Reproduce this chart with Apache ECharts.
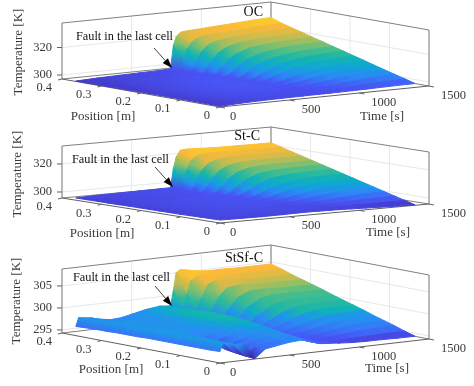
<!DOCTYPE html>
<html>
<head>
<meta charset="utf-8">
<title>Temperature surfaces</title>
<script src="https://cdn.jsdelivr.net/npm/echarts@6/dist/echarts.min.js"></script>
<style>
html, body { margin: 0; padding: 0; background: #fff; }
#chart { width: 474px; height: 386px; }
</style>
</head>
<body>
<div id="chart"></div>
<script>
var timeTicks = [0, 500, 1000, 1500];
var posTicks = [0, 0.1, 0.2, 0.3, 0.4];
var posRows = [0, 0.026, 0.052, 0.078, 0.104, 0.13, 0.156, 0.182, 0.208, 0.234, 0.26, 0.286, 0.312, 0.338, 0.365];

var ocTicks = [300, 320];
var stcTicks = [300, 320];
var stsfcTicks = [295, 300, 305];

// columns of the first two surfaces
var timeCols = [0, 150, 300, 450, 600, 680, 700, 720, 750, 800, 860, 950, 1050, 1150, 1280, 1400];
// columns of the third one, it has more going on before the fault
var timeColsS = [0, 20, 100, 170, 250, 325, 400, 500, 600, 680, 700, 720, 750, 800, 860, 950, 1050, 1150, 1280, 1400];

// temperature, one line per entry of posRows
var ocTemp = [
    [297.6, 298.3, 298.7, 298.9, 299.0, 299.1, 299.1, 299.1, 299.1, 299.1, 299.2, 299.3, 299.4, 299.6, 299.8, 299.9],
    [297.7, 298.5, 298.9, 299.1, 299.2, 299.2, 299.2, 299.2, 299.2, 299.3, 299.5, 299.9, 300.4, 301.0, 301.6, 302.0],
    [297.8, 298.6, 299.1, 299.3, 299.4, 299.3, 299.3, 299.3, 299.3, 299.5, 299.8, 300.5, 301.5, 302.5, 303.4, 304.0],
    [297.8, 298.7, 299.2, 299.5, 299.6, 299.4, 299.4, 299.4, 299.4, 299.7, 300.4, 301.6, 303.0, 304.3, 305.4, 306.0],
    [297.8, 298.8, 299.3, 299.6, 299.8, 299.5, 299.5, 299.5, 299.6, 300.2, 301.2, 303.1, 304.9, 306.2, 307.3, 308.0],
    [297.8, 298.8, 299.4, 299.7, 299.9, 299.6, 299.6, 299.6, 299.8, 300.9, 302.5, 304.9, 307.0, 308.4, 309.5, 310.2],
    [297.8, 298.8, 299.4, 299.8, 300.0, 299.6, 299.6, 299.7, 300.0, 301.7, 304.0, 306.9, 309.2, 310.6, 311.6, 312.2],
    [297.7, 298.7, 299.3, 299.8, 300.0, 299.6, 299.6, 299.8, 300.5, 303.0, 306.0, 309.3, 311.5, 312.8, 313.7, 314.3],
    [297.7, 298.7, 299.2, 299.7, 299.9, 299.6, 299.7, 300.2, 301.5, 304.9, 308.4, 311.8, 313.8, 315.0, 315.8, 316.3],
    [297.6, 298.6, 299.1, 299.5, 299.8, 299.6, 299.9, 300.8, 303.1, 307.3, 311.0, 314.4, 316.1, 317.3, 318.0, 318.4],
    [297.6, 298.5, 299.0, 299.4, 299.6, 299.6, 300.2, 302.0, 305.4, 310.4, 314.1, 317.1, 318.5, 319.4, 320.0, 320.4],
    [297.5, 298.4, 298.9, 299.2, 299.4, 299.6, 301.1, 304.1, 308.7, 314.0, 317.4, 319.5, 320.7, 321.4, 322.1, 322.5],
    [297.5, 298.2, 298.7, 299.0, 299.2, 299.6, 303.3, 308.3, 313.5, 318.3, 320.5, 321.8, 322.5, 323.3, 324.0, 324.5],
    [297.4, 298.1, 298.5, 298.8, 299.1, 299.8, 307.6, 314.4, 319.0, 322.3, 323.3, 323.9, 324.4, 325.2, 326.1, 326.6],
    [297.4, 298.0, 298.4, 298.7, 299.0, 299.5, 316.0, 322.2, 325.2, 325.8, 326.1, 326.7, 327.3, 327.9, 328.8, 329.4]
];

var stcTemp = [
    [297.8, 297.6, 297.5, 297.6, 297.8, 297.8, 297.8, 297.7, 297.7, 297.6, 297.5, 297.2, 296.9, 296.6, 296.2, 296.0],
    [297.7, 297.8, 297.8, 297.9, 297.9, 297.9, 297.9, 297.9, 297.9, 297.9, 297.9, 298.0, 298.0, 298.0, 298.0, 298.0],
    [297.6, 297.9, 298.0, 298.0, 298.0, 298.0, 298.0, 298.0, 298.0, 298.0, 298.2, 298.6, 299.0, 299.5, 299.8, 300.0],
    [297.5, 297.9, 298.0, 298.1, 298.1, 298.1, 298.1, 298.1, 298.1, 298.3, 298.6, 299.4, 300.3, 301.1, 301.7, 302.0],
    [297.4, 297.9, 298.2, 298.4, 298.5, 298.3, 298.3, 298.3, 298.3, 298.7, 299.3, 300.6, 302.0, 303.0, 303.7, 304.0],
    [297.4, 297.9, 298.2, 298.4, 298.5, 298.4, 298.4, 298.4, 298.5, 299.2, 300.3, 302.2, 303.9, 305.0, 305.7, 306.0],
    [297.4, 297.9, 298.2, 298.4, 298.5, 298.5, 298.5, 298.6, 298.8, 299.9, 301.6, 304.1, 306.0, 307.2, 307.8, 308.0],
    [297.4, 297.9, 298.2, 298.4, 298.5, 298.6, 298.6, 298.7, 299.3, 301.0, 303.5, 306.6, 308.5, 309.4, 309.9, 310.0],
    [297.4, 297.9, 298.2, 298.4, 298.5, 298.6, 298.7, 299.0, 300.0, 302.6, 306.0, 309.3, 311.0, 311.7, 312.0, 312.0],
    [297.4, 297.9, 298.2, 298.4, 298.5, 298.7, 298.9, 299.5, 301.5, 305.2, 309.0, 312.2, 313.4, 313.9, 314.0, 314.0],
    [297.3, 297.8, 298.0, 298.2, 298.4, 298.7, 299.2, 300.5, 303.5, 308.5, 312.5, 315.0, 315.8, 316.0, 316.0, 316.0],
    [297.3, 297.8, 298.0, 298.2, 298.4, 298.7, 299.8, 302.5, 307.0, 312.5, 315.9, 317.6, 318.0, 318.1, 318.0, 318.0],
    [297.3, 297.8, 298.0, 298.2, 298.4, 298.7, 301.5, 306.0, 312.0, 317.0, 319.3, 320.2, 320.3, 320.2, 320.1, 320.0],
    [297.3, 297.8, 298.0, 298.2, 298.4, 298.6, 305.0, 312.0, 318.5, 322.0, 322.6, 322.6, 322.4, 322.2, 322.1, 322.0],
    [297.3, 297.8, 298.0, 298.2, 298.4, 298.5, 312.0, 320.0, 324.6, 325.0, 324.8, 324.4, 324.2, 324.1, 324.0, 324.0]
];

var stsfcTemp = [
    [296.9, 298.7, 298.2, 298.0, 294.4, 296.3, 296.7, 297.2, 297.4, 296.6, 296.3, 296.1, 296.0, 295.9, 295.7, 295.5, 295.4, 295.4, 295.3, 295.3],
    [296.8, 298.6, 298.2, 297.4, 294.6, 296.3, 296.8, 297.5, 297.7, 296.7, 296.3, 296.1, 295.9, 295.8, 295.7, 295.7, 295.8, 295.9, 296.0, 296.0],
    [296.8, 298.6, 298.2, 297.5, 294.9, 296.3, 297.0, 297.8, 298.0, 296.8, 296.4, 296.2, 296.0, 295.9, 295.8, 296.0, 296.3, 296.6, 296.8, 296.8],
    [296.8, 298.5, 298.3, 297.6, 295.3, 296.5, 297.3, 298.2, 298.4, 296.9, 296.4, 296.2, 296.1, 296.0, 296.0, 296.3, 296.8, 297.3, 297.5, 297.5],
    [296.8, 298.5, 298.3, 297.7, 296.3, 297.2, 297.8, 298.6, 298.8, 297.1, 296.5, 296.3, 296.2, 296.1, 296.2, 296.7, 297.4, 298.0, 298.2, 298.2],
    [296.8, 298.4, 298.4, 297.9, 297.0, 297.7, 298.2, 298.9, 299.1, 297.4, 296.6, 296.4, 296.3, 296.2, 296.5, 297.3, 298.2, 298.8, 299.0, 299.0],
    [296.8, 298.4, 298.4, 298.1, 298.1, 298.2, 298.6, 299.2, 299.4, 297.7, 296.7, 296.5, 296.4, 296.4, 296.9, 298.0, 299.1, 299.6, 299.7, 299.7],
    [296.8, 298.4, 298.4, 298.1, 298.1, 298.2, 298.7, 299.3, 299.5, 297.9, 296.8, 296.6, 296.5, 296.6, 297.5, 299.0, 300.1, 300.4, 300.4, 300.4],
    [296.7, 298.4, 298.4, 298.1, 298.1, 298.2, 298.7, 299.4, 299.6, 298.1, 296.9, 296.7, 296.6, 297.0, 298.4, 300.2, 301.1, 301.2, 301.1, 301.1],
    [296.7, 298.3, 298.3, 298.1, 298.1, 298.2, 298.7, 299.4, 299.6, 298.2, 297.0, 296.8, 296.8, 297.8, 299.8, 301.5, 302.1, 302.0, 301.9, 301.9],
    [296.7, 298.3, 298.3, 298.1, 298.0, 298.1, 298.6, 299.3, 299.5, 298.3, 297.1, 296.9, 297.2, 299.3, 301.5, 302.8, 302.9, 302.7, 302.6, 302.6],
    [296.6, 298.3, 298.2, 298.1, 298.0, 298.1, 298.5, 299.2, 299.4, 298.4, 297.2, 297.3, 298.6, 301.5, 303.4, 303.7, 303.5, 303.4, 303.3, 303.3],
    [296.6, 298.3, 298.2, 298.0, 297.9, 298.0, 298.4, 299.1, 299.3, 298.5, 297.5, 298.5, 301.0, 304.0, 304.7, 304.4, 304.1, 304.0, 304.0, 304.0],
    [296.5, 298.3, 298.1, 297.8, 297.6, 297.8, 298.2, 298.8, 299.1, 298.7, 298.5, 301.5, 304.5, 305.6, 305.4, 304.9, 304.8, 304.8, 304.8, 304.8],
    [296.4, 298.3, 298.0, 297.3, 297.0, 297.2, 297.7, 298.4, 298.8, 298.6, 302.0, 306.0, 306.6, 306.3, 305.9, 305.6, 305.6, 305.5, 305.5, 305.5]
];

var panelTitles = ['OC', 'St-C', 'StSf-C'];
var faultText = 'Fault in the last cell';

// layout of each box in pixels
var panels = [
    {
        times: timeCols, temps: ocTemp, ticks: ocTicks, zMin: 297.1, zMax: 337.8,
        colorKnots: [[295.8, 0], [331, 1]],
        frontY: 107, height: 56, posDy: 28, timeDy: 21,
        titleX: 263, titleY: 12, faultX: 76, faultY: 37, arrow: [154, 48, 172, 68],
        tempY: 52, tempX: 19, posX: 103, posY: 117, timeX: 382, timeY: 117
    },
    {
        times: timeCols, temps: stcTemp, ticks: stcTicks, zMin: 295.7, zMax: 332.8,
        colorKnots: [[295.2, 0], [327, 1]],
        frontY: 223, height: 52, posDy: 25, timeDy: 19,
        titleX: 260, titleY: 136, faultX: 72, faultY: 160, arrow: [155, 167, 173, 187],
        tempY: 174, tempX: 18, posX: 102, posY: 234, timeX: 388, timeY: 233
    },
    {
        times: timeColsS, temps: stsfcTemp, ticks: stsfcTicks, zMin: 294.3, zMax: 308.85,
        // this one does not follow a straight scale in the picture, green starts early
        colorKnots: [[294.3, 0], [295.3, 0.05], [296.3, 0.16], [297.5, 0.22], [298.6, 0.29], [299.5, 0.46],
            [301.9, 0.55], [303.3, 0.68], [304.8, 0.82], [305.5, 0.87], [307.5, 0.97]],
        frontY: 363, height: 64, posDy: 30, timeDy: 24,
        titleX: 263, titleY: 258, faultX: 73, faultY: 278, arrow: [155, 286, 172, 306],
        tempY: 301, tempX: 17, posX: 111, posY: 370, timeX: 387, timeY: 369
    }
];

var frontX = 220;
var boxTimeW = 209;
var boxPosW = 158;
var textFont = '"Liberation Serif", "Times New Roman", serif';

var parula = [
    [0, [62, 38, 168]], [0.11, [72, 82, 244]], [0.22, [45, 135, 247]], [0.33, [14, 165, 216]],
    [0.45, [18, 181, 174]], [0.55, [74, 189, 138]], [0.65, [150, 191, 98]], [0.75, [217, 186, 72]],
    [0.85, [252, 185, 56]], [0.93, [248, 208, 40]], [1, [249, 251, 21]]
];

function colorLevel(panel, temp) {
    var knots = panel.colorKnots;
    if (temp <= knots[0][0]) {
        return knots[0][1];
    }
    for (var i = 1; i < knots.length; i++) {
        if (temp <= knots[i][0]) {
            var k = (temp - knots[i - 1][0]) / (knots[i][0] - knots[i - 1][0]);
            return knots[i - 1][1] + (knots[i][1] - knots[i - 1][1]) * k;
        }
    }
    return knots[knots.length - 1][1];
}

function tempColor(panel, temp) {
    var v = colorLevel(panel, temp);
    for (var i = 1; i < parula.length; i++) {
        if (v <= parula[i][0]) {
            var a = parula[i - 1], b = parula[i];
            var k = (v - a[0]) / (b[0] - a[0]);
            return 'rgb(' + Math.round(a[1][0] + (b[1][0] - a[1][0]) * k) + ','
                + Math.round(a[1][1] + (b[1][1] - a[1][1]) * k) + ','
                + Math.round(a[1][2] + (b[1][2] - a[1][2]) * k) + ')';
        }
    }
    return 'rgb(249,251,21)';
}

// the box is an oblique view, so shear time/position/temperature into the grid's own axes
function project(api, panel, t, p, temp) {
    var perPx = (panel.zMax - panel.zMin) / panel.height;
    var xVal = t - (p / 0.4) * boxPosW * (1500 / boxTimeW);
    var yVal = temp + ((p / 0.4) * panel.posDy + (t / 1500) * panel.timeDy) * perPx;
    return api.coord([xVal, yVal]);
}

function renderSurface(panel) {
    return function (params, api) {
        var i = api.value(0), j = api.value(1);
        var temps = panel.temps, times = panel.times;
        var p0 = posRows[i], p1 = posRows[i + 1];
        var t0 = times[j], t1 = times[j + 1];
        var a = project(api, panel, t0, p0, temps[i][j]);
        var b = project(api, panel, t1, p0, temps[i][j + 1]);
        var c = project(api, panel, t1, p1, temps[i + 1][j + 1]);
        var d = project(api, panel, t0, p1, temps[i + 1][j]);
        var grad = new echarts.graphic.LinearGradient(
            (a[0] + d[0]) / 2, (a[1] + d[1]) / 2, (b[0] + c[0]) / 2, (b[1] + c[1]) / 2,
            [
                { offset: 0, color: tempColor(panel, (temps[i][j] + temps[i + 1][j]) / 2) },
                { offset: 1, color: tempColor(panel, (temps[i][j + 1] + temps[i + 1][j + 1]) / 2) }
            ],
            true
        );
        return {
            type: 'polygon',
            shape: { points: [a, b, c, d] },
            style: { fill: grad, stroke: grad, lineWidth: 1 }
        };
    };
}

function lineEl(a, b, color, width) {
    return {
        type: 'line',
        shape: { x1: a[0], y1: a[1], x2: b[0], y2: b[1] },
        style: { stroke: color, lineWidth: width }
    };
}

function textEl(x, y, text, align, size, color, rotation) {
    return {
        type: 'text',
        x: x,
        y: y,
        rotation: rotation || 0,
        style: {
            text: text,
            align: align,
            verticalAlign: 'middle',
            fill: color,
            font: size + 'px ' + textFont
        }
    };
}

function renderFrame(panel) {
    return function (params, api) {
        var kids = [];
        var lo = panel.zMin, hi = panel.zMax;
        var gridColor = '#e8e8e8', edgeColor = '#808080', labelColor = '#3a3a3a';
        var i, v, a, b;

        // grid on the two back walls
        for (i = 0; i < timeTicks.length; i++) {
            v = timeTicks[i];
            kids.push(lineEl(project(api, panel, v, 0.4, lo), project(api, panel, v, 0.4, hi), gridColor, 1));
        }
        for (i = 0; i < posTicks.length; i++) {
            v = posTicks[i];
            kids.push(lineEl(project(api, panel, 1500, v, lo), project(api, panel, 1500, v, hi), gridColor, 1));
        }
        for (i = 0; i < panel.ticks.length; i++) {
            v = panel.ticks[i];
            kids.push(lineEl(project(api, panel, 0, 0.4, v), project(api, panel, 1500, 0.4, v), gridColor, 1));
            kids.push(lineEl(project(api, panel, 1500, 0.4, v), project(api, panel, 1500, 0, v), gridColor, 1));
        }

        // box edges
        var lf = project(api, panel, 0, 0.4, lo), lt = project(api, panel, 0, 0.4, hi);
        var bf = project(api, panel, 1500, 0.4, lo), bt = project(api, panel, 1500, 0.4, hi);
        var rf = project(api, panel, 1500, 0, lo), rt = project(api, panel, 1500, 0, hi);
        var ff = project(api, panel, 0, 0, lo);
        kids.push(lineEl(lf, lt, edgeColor, 1));
        kids.push(lineEl(lt, bt, edgeColor, 1));
        kids.push(lineEl(bt, rt, edgeColor, 1));
        kids.push(lineEl(rt, rf, edgeColor, 1));
        kids.push(lineEl(bt, bf, edgeColor, 1));
        kids.push(lineEl(lf, bf, edgeColor, 1));
        kids.push(lineEl(bf, rf, edgeColor, 1));
        kids.push(lineEl(lf, ff, '#606060', 1));
        kids.push(lineEl(ff, rf, '#606060', 1));

        // ticks and their labels
        for (i = 0; i < panel.ticks.length; i++) {
            a = project(api, panel, 0, 0.4, panel.ticks[i]);
            kids.push(lineEl(a, [a[0] - 5, a[1]], '#606060', 1));
            kids.push(textEl(a[0] - 10, a[1], String(panel.ticks[i]), 'right', 12.5, labelColor));
        }
        for (i = 0; i < posTicks.length; i++) {
            a = project(api, panel, 0, posTicks[i], lo);
            kids.push(lineEl(a, [a[0] - 4, a[1] + 1], '#606060', 1));
            kids.push(textEl(a[0] - 10, a[1] + 9, String(posTicks[i]), 'right', 12.5, labelColor));
        }
        for (i = 0; i < timeTicks.length; i++) {
            b = project(api, panel, timeTicks[i], 0, lo);
            kids.push(lineEl(b, [b[0] + 5, b[1] + 1], '#606060', 1));
            kids.push(textEl(b[0] + (i ? 12 : 10), b[1] + 9.5, String(timeTicks[i]), 'left', 12.5, labelColor));
        }

        kids.push(textEl(panel.tempX, panel.tempY, 'Temperature [K]', 'center', 13, labelColor, Math.PI / 2));
        kids.push(textEl(panel.posX, panel.posY, 'Position [m]', 'center', 13, labelColor));
        kids.push(textEl(panel.timeX, panel.timeY, 'Time [s]', 'center', 13, labelColor));
        return { type: 'group', children: kids };
    };
}

// fault note goes on top of the surface
function renderNote(panel, title) {
    return function () {
        var ar = panel.arrow;
        var dx = ar[2] - ar[0], dy = ar[3] - ar[1];
        var len = Math.sqrt(dx * dx + dy * dy);
        var ux = dx / len, uy = dy / len;
        var baseX = ar[2] - ux * 10, baseY = ar[3] - uy * 10;
        return {
            type: 'group',
            children: [
                textEl(panel.titleX, panel.titleY, title, 'right', 14, '#111111'),
                textEl(panel.faultX, panel.faultY, faultText, 'left', 12.3, '#111111'),
                lineEl([ar[0], ar[1]], [baseX, baseY], '#111111', 0.8),
                {
                    type: 'polygon',
                    shape: {
                        points: [
                            [ar[2], ar[3]],
                            [baseX - uy * 3.5, baseY + ux * 3.5],
                            [baseX + uy * 3.5, baseY - ux * 3.5]
                        ]
                    },
                    style: { fill: '#000000' }
                }
            ]
        };
    };
}

var chart = echarts.init(document.getElementById('chart'), null, { renderer: 'canvas' });

var grids = [], xAxes = [], yAxes = [], series = [];
panels.forEach(function (panel, n) {
    grids.push({ left: frontX, width: boxTimeW, top: panel.frontY - panel.height, height: panel.height });
    xAxes.push({ type: 'value', gridIndex: n, min: 0, max: 1500, show: false });
    yAxes.push({ type: 'value', gridIndex: n, min: panel.zMin, max: panel.zMax, show: false });

    series.push({
        type: 'custom',
        xAxisIndex: n,
        yAxisIndex: n,
        silent: true,
        z: 1,
        renderItem: renderFrame(panel),
        data: [[0, 0]]
    });

    // back to front, so the nearer cells paint over the farther ones
    var cells = [];
    for (var i = posRows.length - 2; i >= 0; i--) {
        for (var j = panel.times.length - 2; j >= 0; j--) {
            cells.push([i, j]);
        }
    }
    series.push({
        type: 'custom',
        xAxisIndex: n,
        yAxisIndex: n,
        silent: true,
        z: 2,
        progressive: 0,
        renderItem: renderSurface(panel),
        data: cells
    });

    series.push({
        type: 'custom',
        xAxisIndex: n,
        yAxisIndex: n,
        silent: true,
        z: 3,
        renderItem: renderNote(panel, panelTitles[n]),
        data: [[0, 0]]
    });
});

chart.setOption({
    animation: false,
    backgroundColor: '#ffffff',
    grid: grids,
    xAxis: xAxes,
    yAxis: yAxes,
    series: series
});
</script>
</body>
</html>
